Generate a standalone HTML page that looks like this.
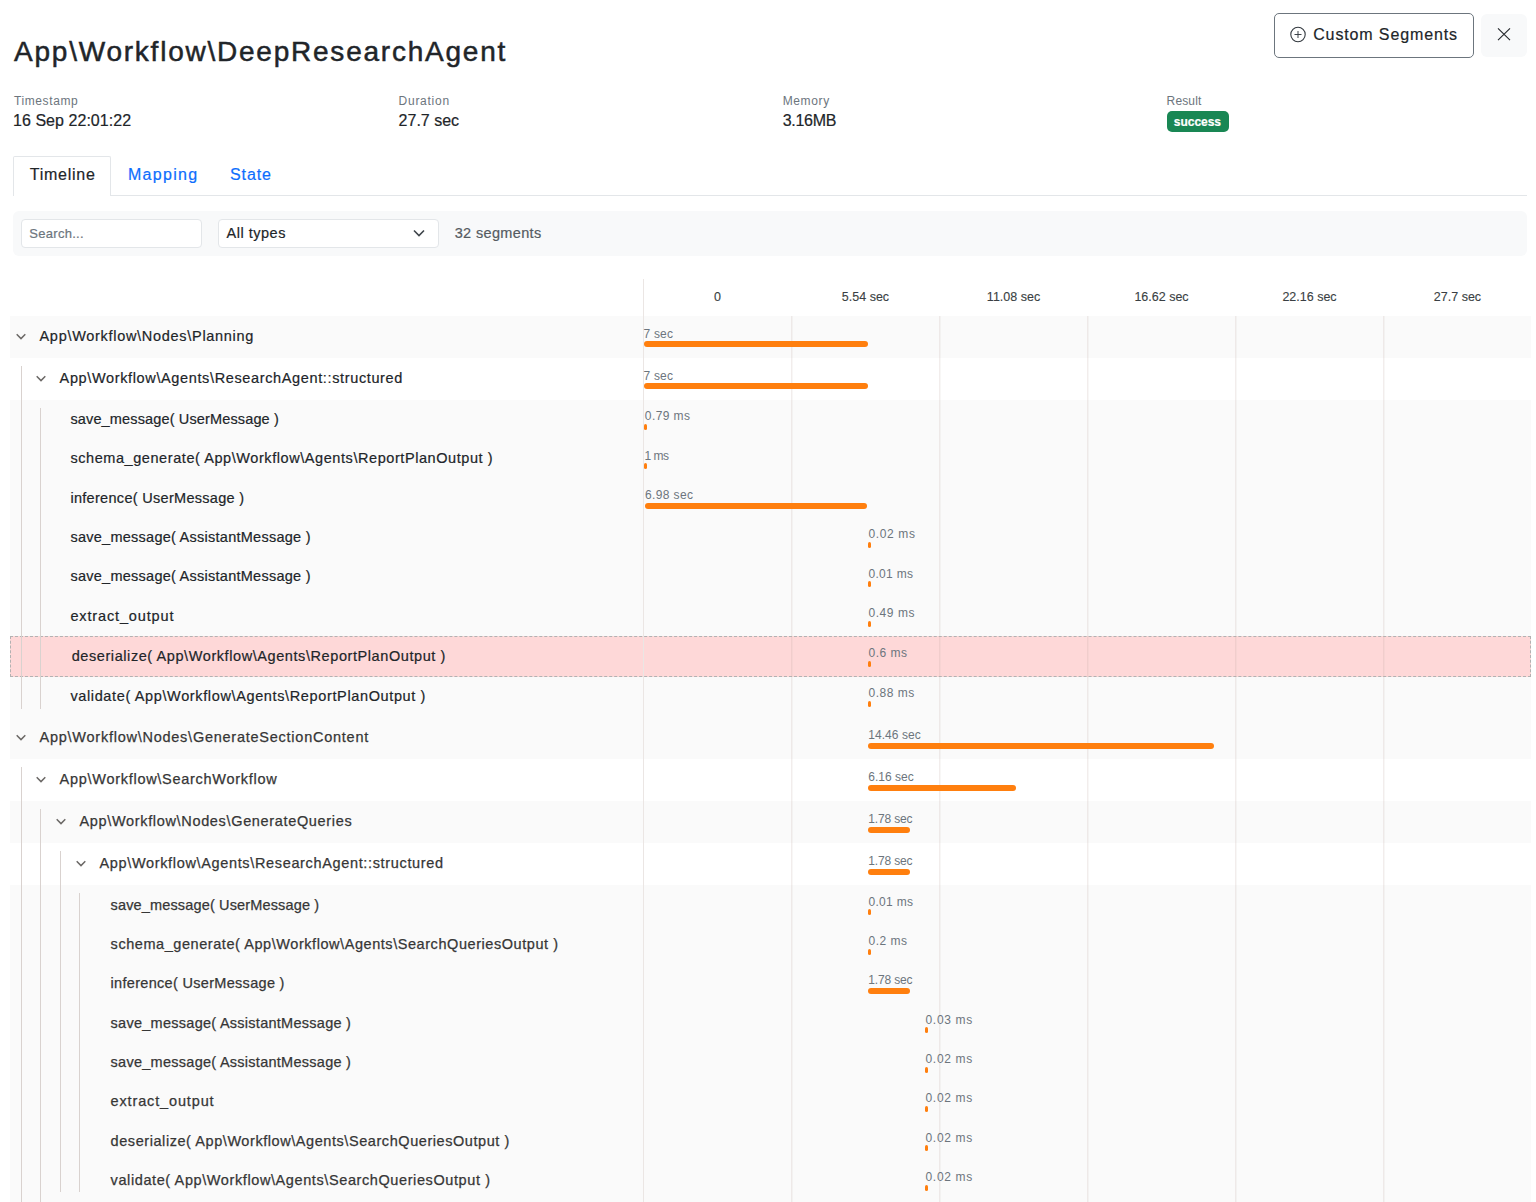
<!DOCTYPE html><html><head><meta charset="utf-8"><style>
*{margin:0;padding:0;box-sizing:border-box}
html,body{width:1536px;height:1202px;overflow:hidden;background:#fff}
body{position:relative;font-family:"Liberation Sans",sans-serif;color:#212529}
.t{position:absolute;white-space:pre;line-height:1}
.abs{position:absolute}
</style></head><body>
<div class="abs" style="left:1274px;top:13px;width:200px;height:45px;border:1.3px solid #6c757d;border-radius:5px;background:#fff"></div>
<svg class="abs" style="left:1289px;top:26px" width="18" height="18" viewBox="0 0 18 18"><circle cx="9" cy="8.5" r="7.2" fill="none" stroke="#343a40" stroke-width="1.1"/><path d="M9 5V12M5.5 8.5H12.5" stroke="#343a40" stroke-width="0.95" fill="none"/></svg>
<div class="abs" style="left:1481px;top:14px;width:46px;height:43px;border-radius:6px;background:#f8f9fa"></div>
<svg class="abs" style="left:1496px;top:26px" width="16" height="16" viewBox="0 0 16 16"><path d="M2 2.4L14 14.2M14 2.4L2 14.2" stroke="#25292d" stroke-width="1.15" fill="none"/></svg>
<div class="abs" style="left:1166.5px;top:111px;width:62.5px;height:20.5px;border-radius:5px;background:#198754"></div>
<div class="abs" style="left:110px;top:195px;width:1417px;height:1px;background:#e3e6e9"></div>
<div class="abs" style="left:13px;top:156px;width:98px;height:40px;border:1px solid #e3e6e9;border-bottom:none;border-radius:2px 2px 0 0;background:#fff"></div>
<div class="abs" style="left:13px;top:211px;width:1514px;height:45px;border-radius:6px;background:#f8f9fa"></div>
<div class="abs" style="left:21px;top:219px;width:181px;height:29px;border:1px solid #e3e6e9;border-radius:4px;background:#fff"></div>
<div class="abs" style="left:218px;top:219px;width:221px;height:29px;border:1px solid #e3e6e9;border-radius:4px;background:#fff"></div>
<svg class="abs" style="left:410.3px;top:226px" width="18" height="14" viewBox="0 0 18 14"><path d="M4 4.5L9 9.5L14 4.5" stroke="#3f454b" stroke-width="1.6" fill="none"/></svg>
<div class="abs" style="left:10px;top:316.00px;width:1521px;height:42.00px;background:#fafafa"></div>
<div class="abs" style="left:10px;top:400.00px;width:1521px;height:39.33px;background:#fafafa"></div>
<div class="abs" style="left:10px;top:439.33px;width:1521px;height:39.33px;background:#fafafa"></div>
<div class="abs" style="left:10px;top:478.67px;width:1521px;height:39.33px;background:#fafafa"></div>
<div class="abs" style="left:10px;top:518.00px;width:1521px;height:39.33px;background:#fafafa"></div>
<div class="abs" style="left:10px;top:557.33px;width:1521px;height:39.33px;background:#fafafa"></div>
<div class="abs" style="left:10px;top:596.66px;width:1521px;height:39.33px;background:#fafafa"></div>
<div class="abs" style="left:10px;top:636.00px;width:1521px;height:41.00px;background:#fed8d8;border:1px dashed #b2b2b2"></div>
<div class="abs" style="left:10px;top:677.00px;width:1521px;height:39.33px;background:#fafafa"></div>
<div class="abs" style="left:10px;top:717.33px;width:1521px;height:42.00px;background:#fafafa"></div>
<div class="abs" style="left:10px;top:801.33px;width:1521px;height:42.00px;background:#fafafa"></div>
<div class="abs" style="left:10px;top:885.33px;width:1521px;height:39.33px;background:#fafafa"></div>
<div class="abs" style="left:10px;top:924.66px;width:1521px;height:39.33px;background:#fafafa"></div>
<div class="abs" style="left:10px;top:964.00px;width:1521px;height:39.33px;background:#fafafa"></div>
<div class="abs" style="left:10px;top:1003.33px;width:1521px;height:39.33px;background:#fafafa"></div>
<div class="abs" style="left:10px;top:1042.66px;width:1521px;height:39.33px;background:#fafafa"></div>
<div class="abs" style="left:10px;top:1082.00px;width:1521px;height:39.33px;background:#fafafa"></div>
<div class="abs" style="left:10px;top:1121.33px;width:1521px;height:39.33px;background:#fafafa"></div>
<div class="abs" style="left:10px;top:1160.66px;width:1521px;height:39.33px;background:#fafafa"></div>
<div class="abs" style="left:10px;top:1200.00px;width:1521px;height:10px;background:#fafafa"></div>
<div class="abs" style="left:10px;top:716.33px;width:1521px;height:1.5px;background:#fafafa"></div>
<div class="abs" style="left:643px;top:279px;width:1px;height:923px;background:#ebe6e4"></div>
<div class="abs" style="left:791px;top:316px;width:1px;height:886px;background:rgba(190,165,160,0.20)"></div>
<div class="abs" style="left:792px;top:316px;width:1px;height:886px;background:rgba(190,175,170,0.10)"></div>
<div class="abs" style="left:939px;top:316px;width:1px;height:886px;background:rgba(190,165,160,0.20)"></div>
<div class="abs" style="left:940px;top:316px;width:1px;height:886px;background:rgba(190,175,170,0.10)"></div>
<div class="abs" style="left:1087px;top:316px;width:1px;height:886px;background:rgba(190,165,160,0.20)"></div>
<div class="abs" style="left:1088px;top:316px;width:1px;height:886px;background:rgba(190,175,170,0.10)"></div>
<div class="abs" style="left:1235px;top:316px;width:1px;height:886px;background:rgba(190,165,160,0.20)"></div>
<div class="abs" style="left:1236px;top:316px;width:1px;height:886px;background:rgba(190,175,170,0.10)"></div>
<div class="abs" style="left:1383px;top:316px;width:1px;height:886px;background:rgba(190,165,160,0.20)"></div>
<div class="abs" style="left:1384px;top:316px;width:1px;height:886px;background:rgba(190,175,170,0.10)"></div>
<div class="abs" style="left:21px;top:366.00px;width:1px;height:343.33px;background:#d9d2cf"></div>
<div class="abs" style="left:40px;top:408.00px;width:1px;height:301.33px;background:#d9d2cf"></div>
<div class="abs" style="left:21px;top:767.33px;width:1px;height:442.67px;background:#d9d2cf"></div>
<div class="abs" style="left:40px;top:809.33px;width:1px;height:400.67px;background:#d9d2cf"></div>
<div class="abs" style="left:60px;top:851.33px;width:1px;height:340.66px;background:#d9d2cf"></div>
<div class="abs" style="left:79px;top:893.33px;width:1px;height:298.66px;background:#d9d2cf"></div>
<svg class="abs" style="left:15px;top:331.00px" width="12" height="12" viewBox="0 0 12 12"><path d="M1.7 3.3L6 7.6L10.3 3.3" stroke="#6b6866" stroke-width="1.5" fill="none"/></svg>
<svg class="abs" style="left:35px;top:373.00px" width="12" height="12" viewBox="0 0 12 12"><path d="M1.7 3.3L6 7.6L10.3 3.3" stroke="#6b6866" stroke-width="1.5" fill="none"/></svg>
<svg class="abs" style="left:15px;top:732.33px" width="12" height="12" viewBox="0 0 12 12"><path d="M1.7 3.3L6 7.6L10.3 3.3" stroke="#6b6866" stroke-width="1.5" fill="none"/></svg>
<svg class="abs" style="left:35px;top:774.33px" width="12" height="12" viewBox="0 0 12 12"><path d="M1.7 3.3L6 7.6L10.3 3.3" stroke="#6b6866" stroke-width="1.5" fill="none"/></svg>
<svg class="abs" style="left:55px;top:816.33px" width="12" height="12" viewBox="0 0 12 12"><path d="M1.7 3.3L6 7.6L10.3 3.3" stroke="#6b6866" stroke-width="1.5" fill="none"/></svg>
<svg class="abs" style="left:75px;top:858.33px" width="12" height="12" viewBox="0 0 12 12"><path d="M1.7 3.3L6 7.6L10.3 3.3" stroke="#6b6866" stroke-width="1.5" fill="none"/></svg>
<div class="abs" style="left:643.70px;top:341.40px;width:224.20px;height:5.8px;border-radius:3px;background:#ff7f0e"></div>
<div class="abs" style="left:643.70px;top:383.40px;width:224.20px;height:5.8px;border-radius:3px;background:#ff7f0e"></div>
<div class="abs" style="left:644.00px;top:423.97px;width:3.00px;height:6px;border-radius:3px;background:#ff7f0e"></div>
<div class="abs" style="left:644.00px;top:463.30px;width:3.00px;height:6px;border-radius:3px;background:#ff7f0e"></div>
<div class="abs" style="left:645.00px;top:502.63px;width:222.00px;height:6px;border-radius:3px;background:#ff7f0e"></div>
<div class="abs" style="left:868.00px;top:541.97px;width:3.00px;height:6px;border-radius:3px;background:#ff7f0e"></div>
<div class="abs" style="left:868.00px;top:581.30px;width:3.00px;height:6px;border-radius:3px;background:#ff7f0e"></div>
<div class="abs" style="left:868.00px;top:620.63px;width:3.00px;height:6px;border-radius:3px;background:#ff7f0e"></div>
<div class="abs" style="left:868.00px;top:660.80px;width:3.00px;height:6px;border-radius:3px;background:#ff7f0e"></div>
<div class="abs" style="left:868.00px;top:700.96px;width:3.00px;height:6px;border-radius:3px;background:#ff7f0e"></div>
<div class="abs" style="left:868.20px;top:742.73px;width:345.60px;height:5.8px;border-radius:3px;background:#ff7f0e"></div>
<div class="abs" style="left:868.20px;top:784.73px;width:147.70px;height:5.8px;border-radius:3px;background:#ff7f0e"></div>
<div class="abs" style="left:868.30px;top:826.73px;width:42.00px;height:5.8px;border-radius:3px;background:#ff7f0e"></div>
<div class="abs" style="left:868.30px;top:868.73px;width:42.00px;height:5.8px;border-radius:3px;background:#ff7f0e"></div>
<div class="abs" style="left:868.00px;top:909.30px;width:3.00px;height:6px;border-radius:3px;background:#ff7f0e"></div>
<div class="abs" style="left:868.00px;top:948.63px;width:3.00px;height:6px;border-radius:3px;background:#ff7f0e"></div>
<div class="abs" style="left:868.30px;top:987.96px;width:42.00px;height:6px;border-radius:3px;background:#ff7f0e"></div>
<div class="abs" style="left:925.00px;top:1027.30px;width:3.00px;height:6px;border-radius:3px;background:#ff7f0e"></div>
<div class="abs" style="left:925.00px;top:1066.63px;width:3.00px;height:6px;border-radius:3px;background:#ff7f0e"></div>
<div class="abs" style="left:925.00px;top:1105.96px;width:3.00px;height:6px;border-radius:3px;background:#ff7f0e"></div>
<div class="abs" style="left:925.00px;top:1145.30px;width:3.00px;height:6px;border-radius:3px;background:#ff7f0e"></div>
<div class="abs" style="left:925.00px;top:1184.63px;width:3.00px;height:6px;border-radius:3px;background:#ff7f0e"></div>
<div class="t" style="left:14.00px;top:38.10px;font-size:28px;font-weight:400;color:#212529;letter-spacing:1.771px;-webkit-text-stroke:0.5px #212529;">App\Workflow\DeepResearchAgent</div>
<div class="t" style="left:14.00px;top:95.04px;font-size:12px;font-weight:400;color:#6c757d;letter-spacing:0.597px;">Timestamp</div>
<div class="t" style="left:398.60px;top:95.04px;font-size:12px;font-weight:400;color:#6c757d;letter-spacing:0.731px;">Duration</div>
<div class="t" style="left:782.70px;top:95.04px;font-size:12px;font-weight:400;color:#6c757d;letter-spacing:0.633px;">Memory</div>
<div class="t" style="left:1166.60px;top:95.04px;font-size:12px;font-weight:400;color:#6c757d;letter-spacing:0.144px;">Result</div>
<div class="t" style="left:13.00px;top:112.86px;font-size:16px;font-weight:400;color:#212529;letter-spacing:0.047px;-webkit-text-stroke:0.2px #212529;">16 Sep 22:01:22</div>
<div class="t" style="left:398.60px;top:112.86px;font-size:16px;font-weight:400;color:#212529;letter-spacing:0.002px;-webkit-text-stroke:0.2px #212529;">27.7 sec</div>
<div class="t" style="left:782.70px;top:112.86px;font-size:16px;font-weight:400;color:#212529;letter-spacing:-0.274px;-webkit-text-stroke:0.2px #212529;">3.16MB</div>
<div class="t" style="left:1173.80px;top:115.54px;font-size:12px;font-weight:700;color:#ffffff;letter-spacing:-0.033px;-webkit-text-stroke:0.2px #ffffff;">success</div>
<div class="t" style="left:1313.20px;top:26.76px;font-size:16px;font-weight:400;color:#212529;letter-spacing:0.871px;-webkit-text-stroke:0.2px #212529;">Custom Segments</div>
<div class="t" style="left:29.70px;top:166.76px;font-size:16px;font-weight:400;color:#212529;letter-spacing:0.762px;-webkit-text-stroke:0.2px #212529;">Timeline</div>
<div class="t" style="left:127.90px;top:166.76px;font-size:16px;font-weight:400;color:#0d6efd;letter-spacing:1.321px;-webkit-text-stroke:0.2px #0d6efd;">Mapping</div>
<div class="t" style="left:230.00px;top:166.76px;font-size:16px;font-weight:400;color:#0d6efd;letter-spacing:0.885px;-webkit-text-stroke:0.2px #0d6efd;">State</div>
<div class="t" style="left:29.30px;top:226.70px;font-size:13px;font-weight:400;color:#6c757d;letter-spacing:0.286px;-webkit-text-stroke:0.2px #6c757d;">Search...</div>
<div class="t" style="left:226.60px;top:226.03px;font-size:14.5px;font-weight:400;color:#212529;letter-spacing:0.506px;-webkit-text-stroke:0.2px #212529;">All types</div>
<div class="t" style="left:454.70px;top:226.03px;font-size:14.5px;font-weight:400;color:#555b61;letter-spacing:0.353px;-webkit-text-stroke:0.2px #555b61;">32 segments</div>
<div class="t" style="left:714.02px;top:290.72px;font-size:12.5px;font-weight:400;color:#3a3f43;letter-spacing:0.000px;-webkit-text-stroke:0.12px #3a3f43;">0</div>
<div class="t" style="left:841.87px;top:290.72px;font-size:12.5px;font-weight:400;color:#3a3f43;letter-spacing:0.000px;-webkit-text-stroke:0.12px #3a3f43;">5.54 sec</div>
<div class="t" style="left:986.86px;top:290.72px;font-size:12.5px;font-weight:400;color:#3a3f43;letter-spacing:0.000px;-webkit-text-stroke:0.12px #3a3f43;">11.08 sec</div>
<div class="t" style="left:1134.40px;top:290.72px;font-size:12.5px;font-weight:400;color:#3a3f43;letter-spacing:0.000px;-webkit-text-stroke:0.12px #3a3f43;">16.62 sec</div>
<div class="t" style="left:1282.40px;top:290.72px;font-size:12.5px;font-weight:400;color:#3a3f43;letter-spacing:0.000px;-webkit-text-stroke:0.12px #3a3f43;">22.16 sec</div>
<div class="t" style="left:1433.87px;top:290.72px;font-size:12.5px;font-weight:400;color:#3a3f43;letter-spacing:0.000px;-webkit-text-stroke:0.12px #3a3f43;">27.7 sec</div>
<div class="t" style="left:39.50px;top:328.53px;font-size:14.5px;font-weight:400;color:#212529;letter-spacing:0.703px;-webkit-text-stroke:0.2px #212529;">App\Workflow\Nodes\Planning</div>
<div class="t" style="left:643.50px;top:327.84px;font-size:12px;font-weight:400;color:#6c757d;letter-spacing:0.205px;">7 sec</div>
<div class="t" style="left:59.60px;top:370.53px;font-size:14.5px;font-weight:400;color:#212529;letter-spacing:0.634px;-webkit-text-stroke:0.2px #212529;">App\Workflow\Agents\ResearchAgent::structured</div>
<div class="t" style="left:643.50px;top:369.84px;font-size:12px;font-weight:400;color:#6c757d;letter-spacing:0.205px;">7 sec</div>
<div class="t" style="left:70.40px;top:411.89px;font-size:14.5px;font-weight:400;color:#212529;letter-spacing:0.144px;-webkit-text-stroke:0.2px #212529;">save_message( UserMessage )</div>
<div class="t" style="left:644.80px;top:410.31px;font-size:12px;font-weight:400;color:#6c757d;letter-spacing:0.419px;">0.79 ms</div>
<div class="t" style="left:70.40px;top:451.23px;font-size:14.5px;font-weight:400;color:#212529;letter-spacing:0.570px;-webkit-text-stroke:0.2px #212529;">schema_generate( App\Workflow\Agents\ReportPlanOutput )</div>
<div class="t" style="left:644.60px;top:449.64px;font-size:12px;font-weight:400;color:#6c757d;letter-spacing:-0.535px;">1 ms</div>
<div class="t" style="left:70.40px;top:490.56px;font-size:14.5px;font-weight:400;color:#212529;letter-spacing:0.301px;-webkit-text-stroke:0.2px #212529;">inference( UserMessage )</div>
<div class="t" style="left:645.00px;top:488.97px;font-size:12px;font-weight:400;color:#6c757d;letter-spacing:0.377px;">6.98 sec</div>
<div class="t" style="left:70.40px;top:529.89px;font-size:14.5px;font-weight:400;color:#212529;letter-spacing:0.259px;-webkit-text-stroke:0.2px #212529;">save_message( AssistantMessage )</div>
<div class="t" style="left:868.50px;top:528.31px;font-size:12px;font-weight:400;color:#6c757d;letter-spacing:0.636px;">0.02 ms</div>
<div class="t" style="left:70.40px;top:569.22px;font-size:14.5px;font-weight:400;color:#212529;letter-spacing:0.259px;-webkit-text-stroke:0.2px #212529;">save_message( AssistantMessage )</div>
<div class="t" style="left:868.50px;top:567.64px;font-size:12px;font-weight:400;color:#6c757d;letter-spacing:0.302px;">0.01 ms</div>
<div class="t" style="left:70.40px;top:608.56px;font-size:14.5px;font-weight:400;color:#212529;letter-spacing:0.857px;-webkit-text-stroke:0.2px #212529;">extract_output</div>
<div class="t" style="left:868.50px;top:606.97px;font-size:12px;font-weight:400;color:#6c757d;letter-spacing:0.552px;">0.49 ms</div>
<div class="t" style="left:71.70px;top:648.72px;font-size:14.5px;font-weight:400;color:#212529;letter-spacing:0.579px;-webkit-text-stroke:0.2px #212529;">deserialize( App\Workflow\Agents\ReportPlanOutput )</div>
<div class="t" style="left:868.50px;top:647.14px;font-size:12px;font-weight:400;color:#6c757d;letter-spacing:0.498px;">0.6 ms</div>
<div class="t" style="left:70.40px;top:688.89px;font-size:14.5px;font-weight:400;color:#212529;letter-spacing:0.632px;-webkit-text-stroke:0.2px #212529;">validate( App\Workflow\Agents\ReportPlanOutput )</div>
<div class="t" style="left:868.50px;top:687.31px;font-size:12px;font-weight:400;color:#6c757d;letter-spacing:0.502px;">0.88 ms</div>
<div class="t" style="left:39.50px;top:729.86px;font-size:14.5px;font-weight:400;color:#363636;letter-spacing:0.749px;-webkit-text-stroke:0.25px #363636;">App\Workflow\Nodes\GenerateSectionContent</div>
<div class="t" style="left:868.30px;top:729.17px;font-size:12px;font-weight:400;color:#6c757d;letter-spacing:0.045px;">14.46 sec</div>
<div class="t" style="left:59.60px;top:771.86px;font-size:14.5px;font-weight:400;color:#363636;letter-spacing:0.714px;-webkit-text-stroke:0.25px #363636;">App\Workflow\SearchWorkflow</div>
<div class="t" style="left:868.30px;top:771.17px;font-size:12px;font-weight:400;color:#6c757d;letter-spacing:0.020px;">6.16 sec</div>
<div class="t" style="left:79.50px;top:813.86px;font-size:14.5px;font-weight:400;color:#363636;letter-spacing:0.660px;-webkit-text-stroke:0.25px #363636;">App\Workflow\Nodes\GenerateQueries</div>
<div class="t" style="left:868.30px;top:813.17px;font-size:12px;font-weight:400;color:#6c757d;letter-spacing:-0.166px;">1.78 sec</div>
<div class="t" style="left:99.50px;top:855.86px;font-size:14.5px;font-weight:400;color:#363636;letter-spacing:0.652px;-webkit-text-stroke:0.25px #363636;">App\Workflow\Agents\ResearchAgent::structured</div>
<div class="t" style="left:868.30px;top:855.17px;font-size:12px;font-weight:400;color:#6c757d;letter-spacing:-0.166px;">1.78 sec</div>
<div class="t" style="left:110.60px;top:897.62px;font-size:14.5px;font-weight:400;color:#363636;letter-spacing:0.148px;-webkit-text-stroke:0.25px #363636;">save_message( UserMessage )</div>
<div class="t" style="left:868.50px;top:895.64px;font-size:12px;font-weight:400;color:#6c757d;letter-spacing:0.302px;">0.01 ms</div>
<div class="t" style="left:110.60px;top:936.96px;font-size:14.5px;font-weight:400;color:#363636;letter-spacing:0.558px;-webkit-text-stroke:0.25px #363636;">schema_generate( App\Workflow\Agents\SearchQueriesOutput )</div>
<div class="t" style="left:868.50px;top:934.97px;font-size:12px;font-weight:400;color:#6c757d;letter-spacing:0.498px;">0.2 ms</div>
<div class="t" style="left:110.60px;top:976.29px;font-size:14.5px;font-weight:400;color:#363636;letter-spacing:0.305px;-webkit-text-stroke:0.25px #363636;">inference( UserMessage )</div>
<div class="t" style="left:868.30px;top:974.31px;font-size:12px;font-weight:400;color:#6c757d;letter-spacing:-0.166px;">1.78 sec</div>
<div class="t" style="left:110.60px;top:1015.62px;font-size:14.5px;font-weight:400;color:#363636;letter-spacing:0.265px;-webkit-text-stroke:0.25px #363636;">save_message( AssistantMessage )</div>
<div class="t" style="left:925.50px;top:1013.64px;font-size:12px;font-weight:400;color:#6c757d;letter-spacing:0.686px;">0.03 ms</div>
<div class="t" style="left:110.60px;top:1054.96px;font-size:14.5px;font-weight:400;color:#363636;letter-spacing:0.265px;-webkit-text-stroke:0.25px #363636;">save_message( AssistantMessage )</div>
<div class="t" style="left:925.50px;top:1052.97px;font-size:12px;font-weight:400;color:#6c757d;letter-spacing:0.686px;">0.02 ms</div>
<div class="t" style="left:110.60px;top:1094.29px;font-size:14.5px;font-weight:400;color:#363636;letter-spacing:0.857px;-webkit-text-stroke:0.25px #363636;">extract_output</div>
<div class="t" style="left:925.50px;top:1092.30px;font-size:12px;font-weight:400;color:#6c757d;letter-spacing:0.686px;">0.02 ms</div>
<div class="t" style="left:110.60px;top:1133.62px;font-size:14.5px;font-weight:400;color:#363636;letter-spacing:0.564px;-webkit-text-stroke:0.25px #363636;">deserialize( App\Workflow\Agents\SearchQueriesOutput )</div>
<div class="t" style="left:925.50px;top:1131.64px;font-size:12px;font-weight:400;color:#6c757d;letter-spacing:0.686px;">0.02 ms</div>
<div class="t" style="left:110.60px;top:1172.95px;font-size:14.5px;font-weight:400;color:#363636;letter-spacing:0.598px;-webkit-text-stroke:0.25px #363636;">validate( App\Workflow\Agents\SearchQueriesOutput )</div>
<div class="t" style="left:925.50px;top:1170.97px;font-size:12px;font-weight:400;color:#6c757d;letter-spacing:0.686px;">0.02 ms</div>
</body></html>
